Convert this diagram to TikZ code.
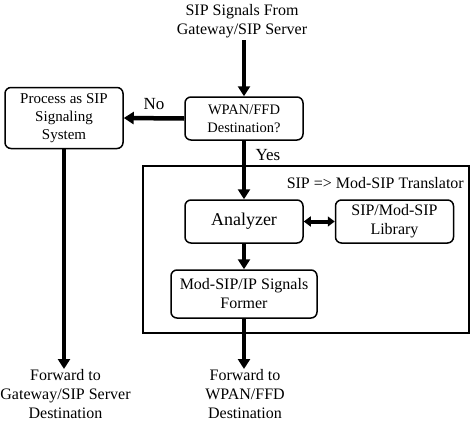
\documentclass[tikz,border=0pt]{standalone}
\usepackage{fontspec}
\setmainfont{Liberation Serif}
\usetikzlibrary{arrows.meta}
\begin{document}
\begin{tikzpicture}[x=1pt,y=-1pt,
  box/.style={draw, line width=1.5pt, rounded corners=6pt, align=center, inner sep=0pt},
  txt/.style={align=center, inner sep=0pt},
  arr/.style={line width=4.5pt, -{Triangle[length=10pt,width=12pt]}},
  darr/.style={line width=4pt, {Triangle[length=7pt,width=10pt]}-{Triangle[length=7pt,width=10pt]}},
  fs/.style={font=\fontsize{16}{19}\selectfont},
  fsm/.style={font=\fontsize{14.5}{18}\selectfont}]
\useasboundingbox (0,0) rectangle (474,426);
% translator frame
\node[draw, line width=1.5pt, minimum width=326pt, minimum height=167pt, inner sep=0pt] (frame) at (306,249.5) {};
\node[txt, fs, anchor=east] (tlabel) at (464,183) {SIP => Mod-SIP Translator};
% nodes
\node[txt, fs, font=\fontsize{16}{19}\selectfont] (src) at (242,21.5) {SIP Signals From\\Gateway/SIP Server};
\node[box, fsm, minimum width=118pt, minimum height=43pt] (wpan) at (244,118.5) {WPAN/FFD\\Destination?};
\node[box, fsm, font=\fontsize{15}{18}\selectfont, minimum width=118pt, minimum height=61pt] (proc) at (64,118) {Process as SIP\\Signaling\\System};
\node[box, font=\fontsize{18}{21}\selectfont, minimum width=118pt, minimum height=43pt] (ana) at (244,221.5) {Analyzer};
\node[box, fs, minimum width=118pt, minimum height=43pt] (lib) at (394.5,221.5) {SIP/Mod-SIP\\Library};
\node[box, fs, minimum width=146pt, minimum height=48pt] (former) at (244,294) {Mod-SIP/IP Signals\\Former};
\node[txt, fs, anchor=north, inner sep=0pt] (fwdw) at (245,369) {Forward to\\WPAN/FFD\\Destination};
\node[txt, fs, anchor=north, inner sep=0pt] (fwdg) at (65.5,369) {Forward to\\Gateway/SIP Server\\Destination};
% connectors
\draw[arr] (src.south -| wpan.north) ++(0,2) -- (wpan.north);
\draw[arr] (wpan.west) -- (proc.east) node[midway, above=3pt, fs, font=\fontsize{17}{19}\selectfont] (no) {No};
\draw[arr] (wpan.south) -- (ana.north) node[pos=0.25, right=6pt, fs, font=\fontsize{17}{19}\selectfont] (yes) {Yes};
\draw[darr] (ana.east) -- (lib.west);
\draw[arr] (ana.south) -- (former.north);
\draw[arr] (former.south) -- (former.south |- fwdw.north);
\draw[arr] (proc.south) -- (proc.south |- fwdg.north);
\end{tikzpicture}
\end{document}
